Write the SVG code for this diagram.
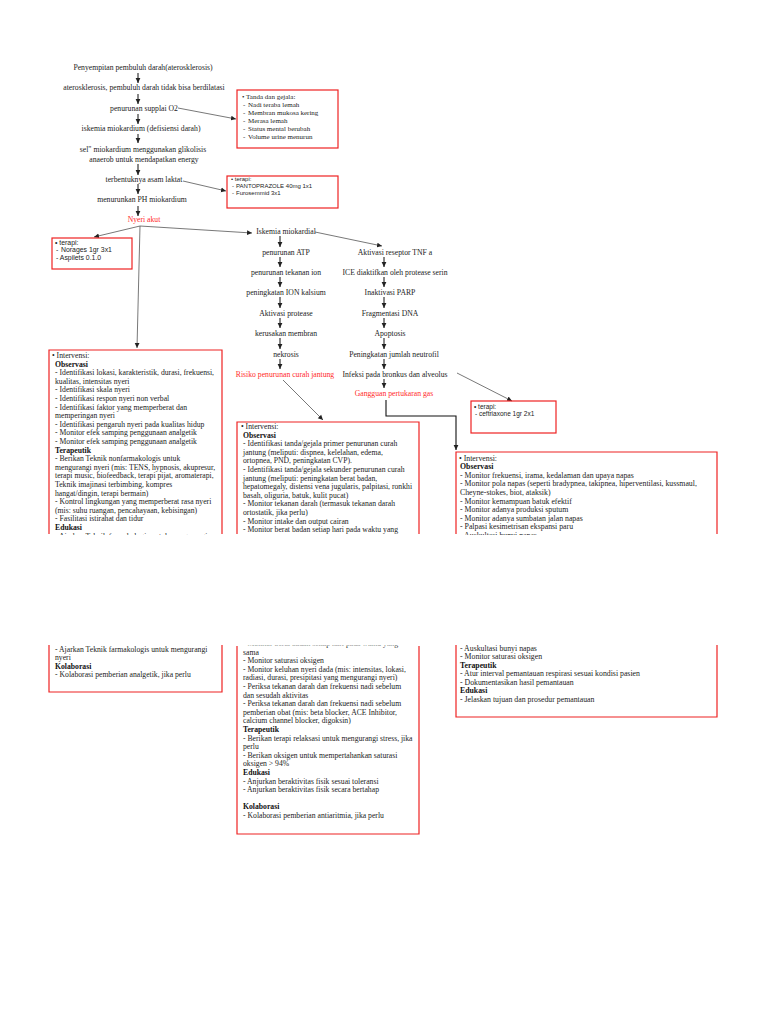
<svg xmlns="http://www.w3.org/2000/svg" width="768" height="1024" viewBox="0 0 768 1024">
<defs>
<marker id="ah" markerWidth="6" markerHeight="6" refX="5" refY="3" orient="auto" markerUnits="userSpaceOnUse"><path d="M0,0.6 L5,3 L0,5.4 Z" fill="#222"/></marker>
<clipPath id="topPage"><rect x="0" y="0" width="768" height="535"/></clipPath>
<clipPath id="botPage"><rect x="0" y="645.5" width="768" height="380"/></clipPath>
<style>
.f{font-family:"Liberation Serif","Times New Roman",serif;font-size:7.7px;fill:#222}
.c{text-anchor:middle}
.r{fill:#ff2a2a}
.b{font-family:"Liberation Serif","Times New Roman",serif;font-size:7.7px;fill:#222}
.bn{font-size:7.8px}
.bb{font-weight:bold;fill:#111}
.t{font-family:"Liberation Serif","Times New Roman",serif;font-size:7px;fill:#222}
.s{font-family:"Liberation Sans",Arial,sans-serif;font-size:6px;fill:#222}
.s7{font-size:6.9px}
.s6{font-size:6.5px}
.box{fill:none;stroke:#ee2222;stroke-width:1.2}
.arr{stroke:#111;stroke-width:1;fill:none;marker-end:url(#ah)}
.con{stroke:#555;stroke-width:0.8;fill:none;marker-end:url(#ah)}
.blk{stroke:#111;stroke-width:1.1;fill:none;marker-end:url(#ah)}
</style>
</defs>
<rect width="768" height="1024" fill="#fff"/>

<g id="connectors">
<path class="arr" d="M138,73 V83"/>
<path class="arr" d="M138,94 V104"/>
<path class="arr" d="M138,114 V124"/>
<path class="arr" d="M138,134 V143"/>
<path class="arr" d="M138,164 V175"/>
<path class="arr" d="M138,184 V194"/>
<path class="arr" d="M138,206 V216"/>
<path class="con" d="M178,108 L236,119"/>
<path class="con" d="M183,181 L226,191"/>
<path class="con" d="M140,226 L94,237"/>
<path class="con" d="M140,226 L252,233"/>
<path class="con" d="M140,226 L137,348"/>
<path class="arr" d="M280,236 V247"/>
<path class="arr" d="M280,257 V267"/>
<path class="arr" d="M280,277 V287"/>
<path class="arr" d="M280,297 V308"/>
<path class="arr" d="M280,318 V328"/>
<path class="arr" d="M280,338 V349"/>
<path class="arr" d="M280,359 V369"/>
<path class="con" d="M315,232 L382,246"/>
<path class="arr" d="M384,257 V267"/>
<path class="arr" d="M384,277 V287"/>
<path class="arr" d="M384,297 V308"/>
<path class="arr" d="M384,318 V328"/>
<path class="arr" d="M384,338 V349"/>
<path class="arr" d="M384,359 V369"/>
<path class="arr" d="M384,379 V388"/>
<path class="con" d="M283,380 L323,420"/>
<path class="con" d="M457,373 L512,401"/>
<path class="blk" d="M386,400 V416 H456 V450"/>
</g>

<g id="flow-left">
<text class="f c" x="143" y="70">Penyempitan pembuluh darah(aterosklerosis)</text>
<text class="f c" x="144" y="90">aterosklerosis, pembuluh darah tidak bisa berdilatasi</text>
<text class="f c" x="144" y="111">penurunan supplai O2</text>
<text class="f c" x="141" y="131">iskemia miokardium (defisiensi darah)</text>
<text class="f c" x="143" y="152">sel" miokardium menggunakan glikolisis</text>
<text class="f c" x="144" y="162">anaerob untuk mendapatkan energy</text>
<text class="f c" x="144" y="182">terbentuknya asam laktat</text>
<text class="f c" x="142" y="202">menurunkan PH miokardium</text>
<text class="f c r" x="144" y="222">Nyeri akut</text>
</g>

<g id="tanda">
<rect class="box" x="237" y="90" width="101" height="58"/>
<text class="t" x="242" y="99">• Tanda dan gejala:</text>
<text class="t" y="106.9"><tspan x="243">-</tspan><tspan x="248">Nadi teraba lemah</tspan></text>
<text class="t" y="114.8"><tspan x="243">-</tspan><tspan x="248">Membran mukosa kering</tspan></text>
<text class="t" y="122.7"><tspan x="243">-</tspan><tspan x="248">Merasa lemah</tspan></text>
<text class="t" y="130.6"><tspan x="243">-</tspan><tspan x="248">Status mental berubah</tspan></text>
<text class="t" y="138.5"><tspan x="243">-</tspan><tspan x="248">Volume urine menurun</tspan></text>
</g>

<g id="terapi1">
<rect class="box" x="227" y="176" width="111" height="32"/>
<text class="s" x="231" y="181">• terapi:</text>
<text class="s" y="188.3"><tspan x="232">-</tspan><tspan x="236">PANTOPRAZOLE 40mg 1x1</tspan></text>
<text class="s" y="195.3"><tspan x="232">-</tspan><tspan x="236">Furosemmid 3x1</tspan></text>
</g>

<g id="terapi2">
<rect class="box" x="52" y="238" width="80" height="31"/>
<text class="s s7" x="55" y="244.5">• terapi:</text>
<text class="s s7" y="252"><tspan x="56">-</tspan><tspan x="61">Norages 1gr 3x1</tspan></text>
<text class="s s7" x="56" y="259.5">- Aspilets 0.1.0</text>
</g>

<g id="flow-mid-left">
<text class="f c" x="286" y="233.5">Iskemia miokardial</text>
<text class="f c" x="286" y="254.5">penurunan ATP</text>
<text class="f c" x="286" y="274.5">penurunan tekanan ion</text>
<text class="f c" x="286" y="294.5">peningkatan ION kalsium</text>
<text class="f c" x="286" y="315.5">Aktivasi protease</text>
<text class="f c" x="286" y="335.5">kerusakan membran</text>
<text class="f c" x="286" y="356.5">nekrosis</text>
<text class="f c r" x="285" y="376.5">Risiko penurunan curah jantung</text>
</g>

<g id="flow-mid-right">
<text class="f c" x="395" y="254.5">Aktivasi reseptor TNF a</text>
<text class="f c" x="395" y="274.5">ICE diaktifkan oleh protease serin</text>
<text class="f c" x="390" y="294.5">Inaktivasi PARP</text>
<text class="f c" x="390" y="315.5">Fragmentasi DNA</text>
<text class="f c" x="390" y="335.5">Apoptosis</text>
<text class="f c" x="394" y="356.5">Peningkatan jumlah neutrofil</text>
<text class="f c" x="395" y="376.5">Infeksi pada bronkus dan alveolus</text>
<text class="f c r" x="394" y="395.5">Gangguan pertukaran gas</text>
</g>

<g id="terapi3">
<rect class="box" x="471" y="401" width="85" height="32"/>
<text class="s s6" x="474" y="408.5">• terapi:</text>
<text class="s s6" x="475" y="416.3">- ceftriaxone 1gr 2x1</text>
</g>

<g id="intervensi-nyeri">
<path class="box" d="M49,534 V350 H222 V534"/>
<path class="box" d="M49,645 V692 H222 V645"/>
<text class="b" x="52" y="358">• Intervensi:</text>
<text class="b bb" x="55" y="366.6">Observasi</text>
<text class="b" x="55" y="375.2">- Identifikasi lokasi, karakteristik, durasi, frekuensi,</text>
<text class="b" x="55" y="383.8">kualitas, intensitas nyeri</text>
<text class="b" x="55" y="392.4">- Identifikasi skala nyeri</text>
<text class="b" x="55" y="401">- Identifikasi respon nyeri non verbal</text>
<text class="b" x="55" y="409.6">- Identifikasi faktor yang memperberat dan</text>
<text class="b" x="55" y="418.2">memperingan nyeri</text>
<text class="b" x="55" y="426.8">- Identifikasi pengaruh nyeri pada kualitas hidup</text>
<text class="b" x="55" y="435.4">- Monitor efek samping penggunaan analgetik</text>
<text class="b" x="55" y="444">- Monitor efek samping penggunaan analgetik</text>
<text class="b bb" x="55" y="452.6">Terapeutik</text>
<text class="b" x="55" y="461.2">- Berikan Teknik nonfarmakologis untuk</text>
<text class="b" x="55" y="469.8">mengurangi nyeri (mis: TENS, hypnosis, akupresur,</text>
<text class="b" x="55" y="478.4">terapi music, biofeedback, terapi pijat, aromaterapi,</text>
<text class="b" x="55" y="487">Teknik imajinasi terbimbing, kompres</text>
<text class="b" x="55" y="495.6">hangat/dingin, terapi bermain)</text>
<text class="b" x="55" y="504.2">- Kontrol lingkungan yang memperberat rasa nyeri</text>
<text class="b" x="55" y="512.8">(mis: suhu ruangan, pencahayaan, kebisingan)</text>
<text class="b" x="55" y="521.4">- Fasilitasi istirahat dan tidur</text>
<text class="b bb" x="55" y="530">Edukasi</text>
<text class="b" x="55" y="538.6" clip-path="url(#topPage)">- Ajarkan Teknik farmakologis untuk mengurangi</text>
<text class="b" x="55" y="651.5">- Ajarkan Teknik farmakologis untuk mengurangi</text>
<text class="b" x="55" y="660.1">nyeri</text>
<text class="b bb" x="55" y="668.7">Kolaborasi</text>
<text class="b" x="55" y="677.3">- Kolaborasi pemberian analgetik, jika perlu</text>
</g>

<g id="intervensi-jantung">
<path class="box" d="M237,534 V422 H419 V534"/>
<path class="box" d="M237,646 V834 H419 V646"/>
<text class="b" x="241" y="429">• Intervensi:</text>
<text class="b bb" x="243" y="437.6">Observasi</text>
<text class="b" x="243" y="446.2">- Identifikasi tanda/gejala primer penurunan curah</text>
<text class="b" x="243" y="454.8">jantung (meliputi: dispnea, kelelahan, edema,</text>
<text class="b" x="243" y="463.4">ortopnea, PND, peningkatan CVP).</text>
<text class="b" x="243" y="472">- Identifikasi tanda/gejala sekunder penurunan curah</text>
<text class="b" x="243" y="480.6">jantung (meliputi: peningkatan berat badan,</text>
<text class="b" x="243" y="489.2">hepatomegaly, distensi vena jugularis, palpitasi, ronkhi</text>
<text class="b" x="243" y="497.8">basah, oliguria, batuk, kulit pucat)</text>
<text class="b" x="243" y="506.4">- Monitor tekanan darah (termasuk tekanan darah</text>
<text class="b" x="243" y="515">ortostatik, jika perlu)</text>
<text class="b" x="243" y="523.6">- Monitor intake dan output cairan</text>
<text class="b" x="243" y="532.2">- Monitor berat badan setiap hari pada waktu yang</text>
<text class="b" x="243" y="646" clip-path="url(#botPage)">- Monitor berat badan setiap hari pada waktu yang</text>
<text class="b" x="243" y="654.5">sama</text>
<text class="b" x="243" y="663.1">- Monitor saturasi oksigen</text>
<text class="b" x="243" y="671.7">- Monitor keluhan nyeri dada (mis: intensitas, lokasi,</text>
<text class="b" x="243" y="680.3">radiasi, durasi, presipitasi yang mengurangi nyeri)</text>
<text class="b" x="243" y="688.9">- Periksa tekanan darah dan frekuensi nadi sebelum</text>
<text class="b" x="243" y="697.5">dan sesudah aktivitas</text>
<text class="b" x="243" y="706.1">- Periksa tekanan darah dan frekuensi nadi sebelum</text>
<text class="b" x="243" y="714.7">pemberian obat (mis: beta blocker, ACE Inhibitor,</text>
<text class="b" x="243" y="723.3">calcium channel blocker, digoksin)</text>
<text class="b bb" x="243" y="731.9">Terapeutik</text>
<text class="b" x="243" y="740.5">- Berikan terapi relaksasi untuk mengurangi stress, jika</text>
<text class="b" x="243" y="749.1">perlu</text>
<text class="b" x="243" y="757.7">- Berikan oksigen untuk mempertahankan saturasi</text>
<text class="b" x="243" y="766.3">oksigen &gt; 94%</text>
<text class="b bb" x="243" y="774.9">Edukasi</text>
<text class="b" x="243" y="783.5">- Anjurkan beraktivitas fisik sesuai toleransi</text>
<text class="b" x="243" y="792.1">- Anjurkan beraktivitas fisik secara bertahap</text>
<text class="b bb" x="243" y="809.3">Kolaborasi</text>
<text class="b" x="243" y="817.9">- Kolaborasi pemberian antiaritmia, jika perlu</text>
</g>

<g id="intervensi-napas">
<path class="box" d="M456,534 V452 H717 V534"/>
<path class="box" d="M456,645 V717 H717 V645"/>
<text class="b bn" x="459" y="460.5">• Intervensi:</text>
<text class="b bn bb" x="460" y="469.1">Observasi</text>
<text class="b bn" x="460" y="477.7">- Monitor frekuensi, irama, kedalaman dan upaya napas</text>
<text class="b bn" x="460" y="486.3">- Monitor pola napas (seperti bradypnea, takipnea, hiperventilasi, kussmaul,</text>
<text class="b bn" x="460" y="494.9">Cheyne-stokes, biot, ataksik)</text>
<text class="b bn" x="460" y="503.5">- Monitor kemampuan batuk efektif</text>
<text class="b bn" x="460" y="512.1">- Monitor adanya produksi sputum</text>
<text class="b bn" x="460" y="520.7">- Monitor adanya sumbatan jalan napas</text>
<text class="b bn" x="460" y="529.3">- Palpasi kesimetrisan ekspansi paru</text>
<text class="b bn" x="460" y="537.9" clip-path="url(#topPage)">- Auskultasi bunyi napas</text>
<text class="b bn" x="460" y="650.5">- Auskultasi bunyi napas</text>
<text class="b bn" x="460" y="659">- Monitor saturasi oksigen</text>
<text class="b bn bb" x="460" y="667.5">Terapeutik</text>
<text class="b bn" x="460" y="676">- Atur interval pemantauan respirasi sesuai kondisi pasien</text>
<text class="b bn" x="460" y="684.5">- Dokumentasikan hasil pemantauan</text>
<text class="b bn bb" x="460" y="693">Edukasi</text>
<text class="b bn" x="460" y="701.5">- Jelaskan tujuan dan prosedur pemantauan</text>
</g>
</svg>
